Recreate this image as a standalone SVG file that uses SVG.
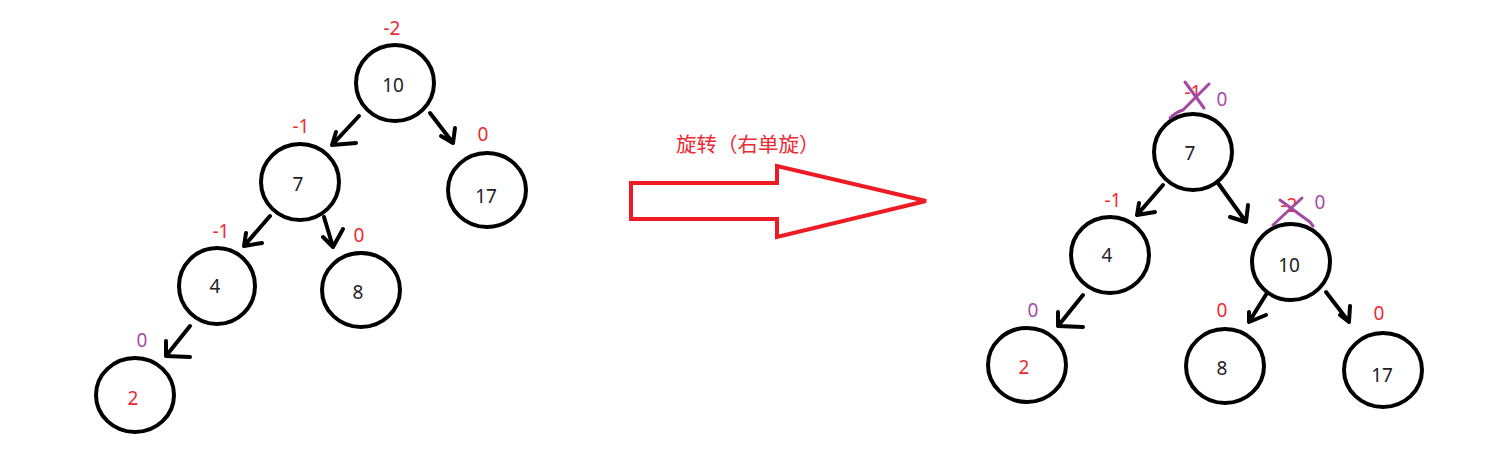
<svg xmlns="http://www.w3.org/2000/svg" width="1502" height="450" viewBox="0 0 1502 450">
<style>
.n{fill:none;stroke:#000;stroke-width:4}
.t{font-family:"Noto Sans","Liberation Sans",sans-serif;font-size:19px;fill:#222;text-anchor:middle}
.r{fill:#ED2A34}
.p{fill:#A64CA8}
.e{fill:none;stroke:#000;stroke-width:4;stroke-linecap:round;stroke-linejoin:round}
.x{fill:none;stroke:#A349A4;stroke-width:3;stroke-linecap:round}
</style>
<rect width="1502" height="450" fill="#fff"/>
<g id="connectors">
<path class="e" d="M359,116 L332,145 M336,132 L332,145 L356,143"/>
<path class="e" d="M430,113 L453,143 M441,136 L453,143 L455,128"/>
<path class="e" d="M270,216 L244,246 M246,233 L244,246 L262,243"/>
<path class="e" d="M324,217 L333,247 M323,237 L333,247 L343,229"/>
<path class="e" d="M190,326 L166,356 M166,341 L166,356 L190,357"/>
<path class="e" d="M1163,185 L1137,215 M1139,203 L1137,215 L1155,212"/>
<path class="e" d="M1218,183 L1246,222 M1230,217 L1246,222 L1248,205"/>
<path class="e" d="M1083,295 L1058,326 M1058,312 L1058,326 L1083,327"/>
<path class="e" d="M1267,293 L1249,322 M1249,312 L1249,322 L1266,315"/>
<path class="e" d="M1326,292 L1349,322 M1340,315 L1349,322 L1350,306"/>
</g>
<g id="L10"><ellipse class="n" cx="395" cy="83" rx="39" ry="38"/><text class="t" x="393" y="92">10</text><text class="t r" x="392" y="35">-2</text></g>
<g id="L7"><ellipse class="n" cx="300" cy="182" rx="39" ry="38"/><text class="t" x="298" y="191">7</text><text class="t r" x="301" y="133">-1</text></g>
<g id="L17"><ellipse class="n" cx="487" cy="190" rx="39" ry="37"/><text class="t" x="486" y="203">17</text><text class="t r" x="483" y="141">0</text></g>
<g id="L4"><ellipse class="n" cx="217" cy="286" rx="38" ry="38"/><text class="t" x="215" y="293">4</text><text class="t r" x="221" y="238">-1</text></g>
<g id="L8"><ellipse class="n" cx="361" cy="290" rx="39" ry="37"/><text class="t" x="358" y="299">8</text><text class="t r" x="359" y="242">0</text></g>
<g id="L2"><ellipse class="n" cx="135" cy="395" rx="39" ry="37"/><text class="t r" x="133" y="405">2</text><text class="t p" x="142" y="347">0</text></g>
<g id="rotate-arrow">
<polygon points="631,183 777,183 777,166 926,201 777,237 777,219 631,219" fill="none" stroke="#ED1C24" stroke-width="4" stroke-linejoin="miter"/>
<text x="676" y="152" font-family="'Noto Sans CJK SC',sans-serif" font-size="20.5" fill="#ED2A34">旋转（右单旋）</text>
</g>
<g id="R7"><ellipse class="n" cx="1193" cy="152" rx="39" ry="38"/><text class="t" x="1190" y="160">7</text><text class="t r" x="1193" y="99">-1</text><path class="x" d="M1170,118 Q1176,112 1183,110 L1209,84 M1185,82 L1204,108"/><text class="t p" x="1222" y="106">0</text></g>
<g id="R4"><ellipse class="n" cx="1110" cy="255" rx="39" ry="38"/><text class="t" x="1107" y="262">4</text><text class="t r" x="1113" y="207">-1</text></g>
<g id="R10"><ellipse class="n" cx="1291" cy="262" rx="39" ry="38"/><text class="t" x="1289" y="272">10</text><text class="t r" x="1289" y="212">-2</text><path class="x" d="M1273,225 L1302,198 M1280,200 L1310,222 L1313,226"/><text class="t p" x="1320" y="209">0</text></g>
<g id="R2"><ellipse class="n" cx="1027" cy="365" rx="39" ry="37"/><text class="t r" x="1024" y="374">2</text><text class="t p" x="1033" y="317">0</text></g>
<g id="R8"><ellipse class="n" cx="1225" cy="366" rx="39" ry="37"/><text class="t" x="1222" y="375">8</text><text class="t r" x="1222" y="317">0</text></g>
<g id="R17"><ellipse class="n" cx="1383" cy="370" rx="39" ry="37"/><text class="t" x="1382" y="382">17</text><text class="t r" x="1379" y="320">0</text></g>
</svg>
